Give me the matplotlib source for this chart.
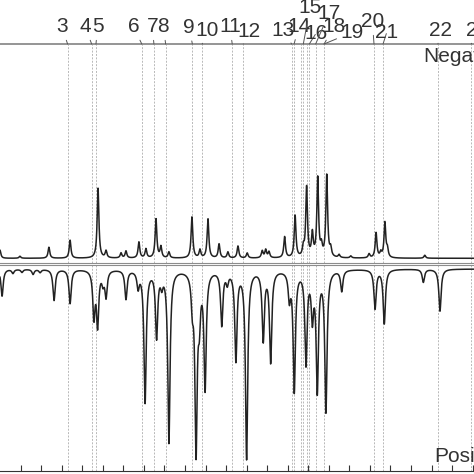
import numpy as np
import matplotlib.pyplot as plt

plt.rcParams['font.family'] = ['Liberation Sans', 'DejaVu Sans']

# retention time axis (min), one tick per minute
t = np.arange(0, 23.07, 0.004)

# negative ion mode trace (drawn upwards): peak apex times and heights
neg_rt = [0.00, 0.97, 2.38, 3.41, 4.77, 5.16, 5.89, 6.13, 6.76, 7.10, 7.59, 7.83,
          8.22, 9.34, 9.73, 10.12, 10.66, 11.09, 11.58, 12.03, 12.76, 12.93, 13.09,
          13.85, 14.36, 14.76, 14.92, 15.20, 15.46, 15.64, 15.90, 16.09, 16.50,
          17.07, 17.96, 18.30, 18.53, 18.73, 18.85, 20.67]
neg_int = [8, 2, 11, 18, 70, 7, 5, 7, 16, 9, 39, 11,
           6, 41, 8, 39, 14, 6, 12, 5, 7, 8, 6,
           21, 42, 9, 70, 23, 79, 10, 82, 8, 3,
           2, 4, 25, 5, 35, 8, 3]

# positive ion mode trace (drawn downwards)
pos_rt = [0.10, 0.63, 1.07, 1.61, 1.95, 2.63, 3.41, 4.57, 4.75, 5.01, 5.16, 6.13,
          6.72, 7.06, 7.62, 7.87, 8.22, 9.36, 9.54, 9.70, 9.98, 10.79, 11.06,
          11.48, 12.00, 12.81, 13.17, 14.08, 14.32, 14.89, 15.20, 15.44, 15.86,
          16.63, 18.25, 18.70, 20.60, 21.41]
pos_int = [27, 4, 3, 5, 3, 31, 34, 46, 54, 11, 26, 29,
           16, 132, 66, 12, 172, 29, 178, 40, 116, 54, 11,
           89, 188, 69, 91, 26, 120, 92, 44, 118, 140,
           21, 39, 54, 13, 42]

# marked compounds: dashed guide lines and labels
guide_rt = [3.29, 4.46, 4.67, 6.90, 7.49, 8.06, 9.36, 9.84, 11.30, 11.84, 14.19,
            14.31, 14.65, 14.76, 14.92, 15.05, 15.36, 15.77, 18.20, 18.64, 21.31, 22.93]
labels = ['3', '4', '5', '6', '7', '8', '9', '10', '11', '12', '13', '14', '15',
          '16', '17', '18', '19', '20', '21', '22', '23']
label_line = [3.29, 4.46, 4.67, 6.90, 7.49, 8.06, 9.36, 9.84, 11.30, 11.84, 14.19,
              14.31, 14.76, 15.05, 15.36, 15.77, 15.77, 18.20, 18.64, 21.31, 22.93]
label_x = [3.00, 4.14, 4.75, 6.49, 7.41, 7.95, 9.21, 10.09, 11.19, 12.12, 13.79,
           14.55, 15.09, 15.38, 16.01, 16.25, 17.14, 18.12, 18.82, 21.45, 23.26]
label_up = [17.3, 17.3, 17.3, 17.3, 17.3, 17.3, 16.7, 13, 17.3, 12.3, 13.3,
            18, 36.7, 10.7, 30.7, 17.3, 11.7, 22.3, 11.7, 13, 13]


def trace(rt, inten, w):
    y = np.zeros_like(t)
    for c, h in zip(rt, inten):
        y += h / (1 + ((t - c) / w) ** 2)
    return y


neg = trace(neg_rt, neg_int, 0.05)
pos = trace(pos_rt, pos_int, 0.065)

fig = plt.figure(figsize=(4.74, 4.74), dpi=100)
ax1 = fig.add_axes([0, 1 - 262.5 / 474, 1, (262.5 - 44) / 474])
ax2 = fig.add_axes([0, 1 - 471 / 474, 1, (471 - 265) / 474])

ax1.plot(t, neg, color='#222222', lw=1.1)
ax2.plot(t, -pos, color='#222222', lw=1.1)
ax1.set_ylim(-4.2, 214.3)
ax2.set_ylim(-202, 4)

for ax in (ax1, ax2):
    ax.set_xlim(0, 474 / 20.55)
    ax.spines['left'].set_visible(False)
    ax.spines['right'].set_visible(False)
    ax.set_yticks([])
    for rt in guide_rt:
        ax.axvline(rt, color='#b8b8b8', lw=0.7, ls=(0, (2, 1.5)), zorder=0)

ax1.set_xticks([])
ax1.spines['top'].set_color('#8c8c8c')
ax1.spines['top'].set_linewidth(1.3)
ax1.spines['bottom'].set_color('#8c8c8c')
ax2.spines['top'].set_color('#8c8c8c')
ax2.spines['bottom'].set_color('#333333')
ax2.set_xticks(np.arange(1, 24))
ax2.tick_params(axis='x', direction='in', length=4, width=0.8, labelbottom=False,
                color='#333333')

h_px = 262.5 - 44
for lab, lx, up, lr in zip(labels, label_x, label_up, label_line):
    ax1.annotate(lab, xy=(lr, 1), xycoords=('data', 'axes fraction'),
                 xytext=(lx, 1 + up / h_px), textcoords=('data', 'axes fraction'),
                 ha='center', va='center', fontsize=15, color='#333333',
                 annotation_clip=False,
                 arrowprops=dict(arrowstyle='-', color='#555555', lw=0.7,
                                 shrinkA=1, shrinkB=0))

fig.text(423.3 / 474, 1 - 61.7 / 474, 'Negative', ha='left', va='baseline',
         fontsize=15, color='#333333')
fig.text(434 / 474, 1 - 461.7 / 474, 'Positive', ha='left', va='baseline',
         fontsize=15, color='#333333')

fig.savefig('out.png', dpi=100)
